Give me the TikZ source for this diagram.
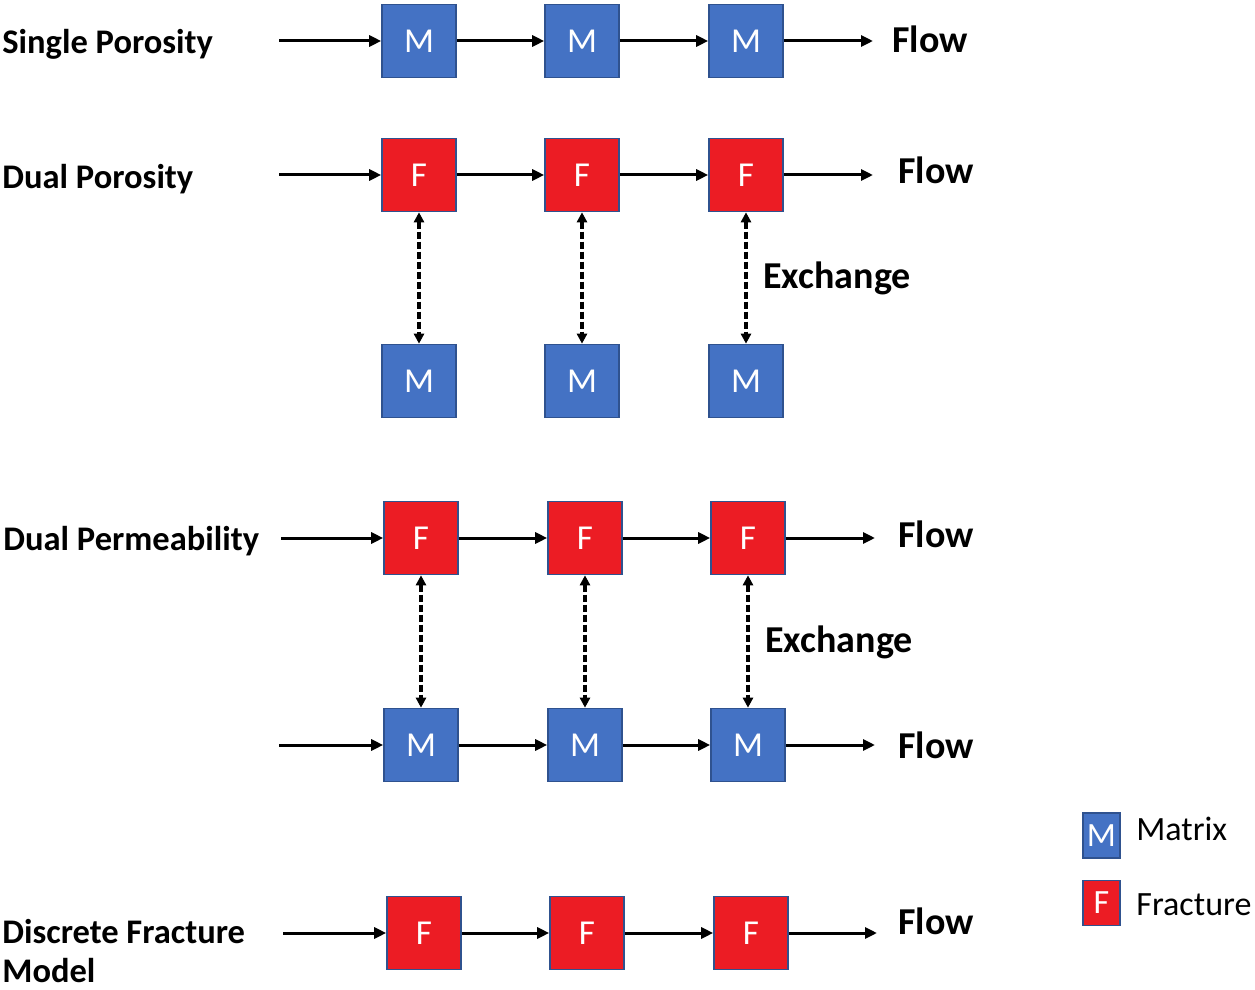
\documentclass[tikz,border=0pt]{standalone}
\usepackage{fontspec}
\setmainfont{Carlito}
\usetikzlibrary{arrows.meta}
\definecolor{mblue}{HTML}{4472C4}
\definecolor{fred}{HTML}{EC1C24}
\definecolor{edge}{HTML}{2F528F}
\tikzset{
  cell/.style={draw=edge,line width=0.8pt,minimum width=37pt,minimum height=36.5pt,inner sep=0pt,text=white,font=\fontsize{17.5}{20}\selectfont},
  mbox/.style={cell,fill=mblue},
  fbox/.style={cell,fill=fred},
  lbox/.style={draw=edge,line width=0.8pt,minimum width=18.5pt,minimum height=22.5pt,inner sep=0pt,text=white,font=\fontsize{17}{20}\selectfont},
  flowarr/.style={line width=1.5pt,-{Triangle[length=6pt,width=5.5pt]}},
  exarr/.style={line width=1.6pt,dash pattern=on 3.5pt off 1.5pt,{Triangle[length=5pt,width=5pt]}-{Triangle[length=5pt,width=5pt]}},
  rowlabel/.style={anchor=base west,inner sep=0pt,font=\bfseries\fontsize{17.25}{19.5}\selectfont,align=left},
  bigtext/.style={anchor=base west,inner sep=0pt,font=\bfseries\fontsize{19}{22}\selectfont},
  legtext/.style={anchor=base west,inner sep=0pt,font=\fontsize{17}{20}\selectfont},
}
\begin{document}
\begin{tikzpicture}[x=0.5pt,y=-0.5pt]
\useasboundingbox (0,0) rectangle (1255,990);
% Row 1: Single Porosity
\node[rowlabel] (l1) at (2,54) {Single Porosity};
\coordinate (s1) at (279,41);
\node[mbox] (a1) at (419,41) {M};
\node[mbox] (a2) at (582,41) {M};
\node[mbox] (a3) at (746,41) {M};
\coordinate (e1) at (873,41);
\node[bigtext] (fl1) at (892,53) {Flow};
\draw[flowarr] (s1) -- (a1);
\draw[flowarr] (a1) -- (a2);
\draw[flowarr] (a2) -- (a3);
\draw[flowarr] (a3) -- (e1);
% Row 2: Dual Porosity
\node[rowlabel] (l2) at (2,189) {Dual Porosity};
\coordinate (s2) at (279,175);
\node[fbox] (b1) at (419,175) {F};
\node[fbox] (b2) at (582,175) {F};
\node[fbox] (b3) at (746,175) {F};
\coordinate (e2) at (873,175);
\node[bigtext] (fl2) at (898,184) {Flow};
\node[mbox] (c1) at (419,381) {M};
\node[mbox] (c2) at (582,381) {M};
\node[mbox] (c3) at (746,381) {M};
\node[bigtext] (ex1) at (763,289) {Exchange};
\draw[flowarr] (s2) -- (b1);
\draw[flowarr] (b1) -- (b2);
\draw[flowarr] (b2) -- (b3);
\draw[flowarr] (b3) -- (e2);
\draw[exarr] (b1) -- (c1);
\draw[exarr] (b2) -- (c2);
\draw[exarr] (b3) -- (c3);
% Row 3: Dual Permeability
\node[rowlabel] (l3) at (3,550) {Dual Permeability};
\coordinate (s3) at (281,538);
\node[fbox] (d1) at (421,538) {F};
\node[fbox] (d2) at (585,538) {F};
\node[fbox] (d3) at (748,538) {F};
\coordinate (e3) at (875,538);
\node[bigtext] (fl3) at (898,547) {Flow};
\node[mbox] (g1) at (421,745) {M};
\node[mbox] (g2) at (585,745) {M};
\node[mbox] (g3) at (748,745) {M};
\coordinate (s4) at (279,745);
\coordinate (e4) at (875,745);
\node[bigtext] (fl4) at (898,758) {Flow};
\node[bigtext] (ex2) at (765,652) {Exchange};
\draw[flowarr] (s3) -- (d1);
\draw[flowarr] (d1) -- (d2);
\draw[flowarr] (d2) -- (d3);
\draw[flowarr] (d3) -- (e3);
\draw[flowarr] (s4) -- (g1);
\draw[flowarr] (g1) -- (g2);
\draw[flowarr] (g2) -- (g3);
\draw[flowarr] (g3) -- (e4);
\draw[exarr] (d1) -- (g1);
\draw[exarr] (d2) -- (g2);
\draw[exarr] (d3) -- (g3);
% Row 4: Discrete Fracture Model
\node[rowlabel] (l4) at (2,982) {Discrete Fracture\\Model};
\coordinate (s5) at (283,933);
\node[fbox] (h1) at (424,933) {F};
\node[fbox] (h2) at (587,933) {F};
\node[fbox] (h3) at (751,933) {F};
\coordinate (e5) at (877,933);
\node[bigtext] (fl5) at (898,934) {Flow};
\draw[flowarr] (s5) -- (h1);
\draw[flowarr] (h1) -- (h2);
\draw[flowarr] (h2) -- (h3);
\draw[flowarr] (h3) -- (e5);
% Legend
\node[lbox,fill=mblue] (lm) at (1101.5,835.5) {M};
\node[legtext] (tm) at (1136,840) {Matrix};
\node[lbox,fill=fred] (lf) at (1101.5,903) {F};
\node[legtext] (tf) at (1136,915) {Fracture};
\end{tikzpicture}
\end{document}
